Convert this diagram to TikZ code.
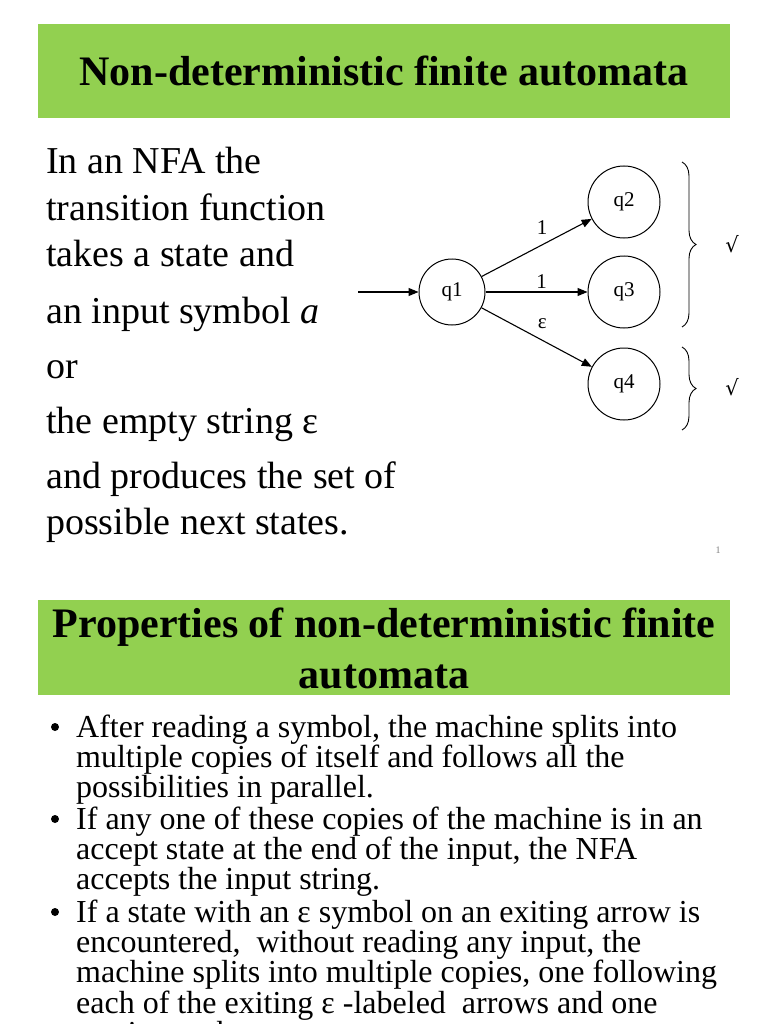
\documentclass[tikz,border=0pt]{standalone}
\usepackage{fontspec}
\setmainfont{Liberation Serif}
\newfontfamily\symf{DejaVu Sans}
\usetikzlibrary{decorations.pathreplacing,arrows.meta}
\begin{document}
\begin{tikzpicture}[x=1pt,y=-1pt,
  ttl/.style={font=\fontsize{42}{46}\selectfont\bfseries, anchor=base},
  para/.style={font=\fontsize{38}{42}\selectfont, anchor=base west, inner sep=0},
  blt/.style={font=\fontsize{32}{30}\selectfont, anchor=base west, inner sep=0},
  st/.style={circle, draw, line width=1pt, minimum size=66pt, font=\fontsize{21}{24}\selectfont},
  ar/.style={-{Triangle[length=10pt,width=8pt]}, line width=1.1pt},
  lb/.style={font=\fontsize{21}{24}\selectfont}]
\definecolor{grn}{HTML}{92D050}
\clip (0,0) rectangle (768,1024);
\fill[white] (0,0) rectangle (768,1024);
\fill[grn] (38,24) rectangle (730,118);
\node[ttl] (t1) at (384,86) {Non-deterministic finite automata};
\node[para] (p1) at (46,174) {In an NFA the};
\node[para] (p2) at (46,221) {transition function};
\node[para] (p3) at (46,266) {takes a state and};
\node[para] (p4) at (46,323) {an input symbol \textit{a}};
\node[para] (p5) at (46,378) {or};
\node[para] (p6) at (46,433) {the empty string ε};
\node[para] (p7) at (46,488) {and produces the set of};
\node[para] (p8) at (46,534) {possible next states.};
\node[st] (q1) at (452,292) {q1};
\node[st, minimum size=72pt] (q2) at (624,202) {q2};
\node[st, minimum size=72pt] (q3) at (624,292) {q3};
\node[st, minimum size=72pt] (q4) at (624,384) {q4};
\coordinate (in) at (358,292);
\draw[ar] (in) -- (q1);
\draw[ar] (q1) -- node[lb, above=6pt, pos=0.55] {1} (q2);
\draw[ar] (q1) -- node[lb, above=0pt, pos=0.55] {1} (q3);
\draw[ar] (q1) -- node[lb, above=8pt, pos=0.55] {ε} (q4);
\draw[line width=0.9pt, decorate, decoration={brace, amplitude=14pt}] (682,162) -- (682,327);
\draw[line width=0.9pt, decorate, decoration={brace, amplitude=14pt}] (682,347) -- (682,430);
\node[font=\symf\fontsize{21}{24}\selectfont] (c1) at (732,244) {√};
\node[font=\symf\fontsize{21}{24}\selectfont] (c2) at (732,387) {√};
\node[font=\fontsize{10}{12}\selectfont, text=gray] (pg) at (718,550) {1};
\fill[grn] (38,600) rectangle (730,695);
\node[ttl] (t2) at (384,637) {Properties of non-deterministic finite};
\node[ttl] (t3) at (384,688) {automata};
\foreach \y in {727,819,912} \fill (55,\y) circle (4pt);
\node[blt] (b1) at (76,737) {After reading a symbol, the machine splits into};
\node[blt] (b2) at (76,767) {multiple copies of itself and follows all the};
\node[blt] (b3) at (76,797) {possibilities in parallel.};
\node[blt] (b4) at (76,829) {If any one of these copies of the machine is in an};
\node[blt] (b5) at (76,859) {accept state at the end of the input, the NFA};
\node[blt] (b6) at (76,889) {accepts the input string.};
\node[blt] (b7) at (76,922) {If a state with an ε symbol on an exiting arrow is};
\node[blt] (b8) at (76,952) {encountered,\ \ without reading any input, the};
\node[blt] (b9) at (76,982) {machine splits into multiple copies, one following};
\node[blt] (b10) at (76,1013) {each of the exiting ε -labeled\ \ arrows and one};
\node[blt] (b11) at (76,1043) {staying at the current state.};
\end{tikzpicture}
\end{document}
